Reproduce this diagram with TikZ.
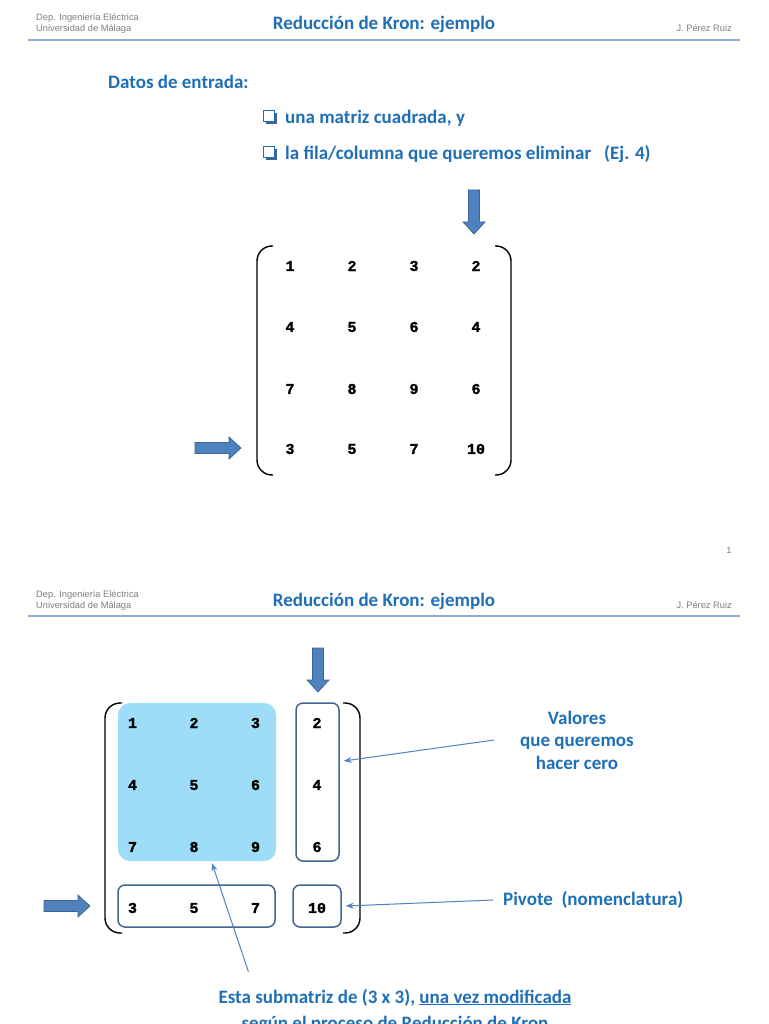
\documentclass[tikz,border=0pt]{standalone}
\usepackage{fontspec}
\setmainfont{Carlito}
\newfontfamily\hdrfont{Liberation Sans}
\newfontfamily\monofont[BoldFeatures={FakeBold=1.6}]{Liberation Mono}
\usetikzlibrary{arrows.meta}
\definecolor{kblue}{HTML}{1F6FB8}
\definecolor{arrowfill}{HTML}{4F81BD}
\definecolor{arrowdraw}{HTML}{3A6595}
\definecolor{boxdraw}{HTML}{42648F}
\definecolor{subfill}{HTML}{9EDDF8}
\definecolor{hdrline}{HTML}{8EAADB}
\definecolor{hdrgrey}{HTML}{7F7F7F}

\begin{document}
\begin{tikzpicture}[x=1pt,y=-1pt,every node/.style={inner sep=0pt},
  hdrtext/.style={font=\hdrfont\fontsize{9.3}{10}\selectfont,text=hdrgrey},
  bluetext/.style={font=\fontsize{19}{22.5}\selectfont\bfseries,text=kblue},
  entry/.style={font=\monofont\fontsize{15}{15}\selectfont\bfseries},
  bigarrow/.style={fill=arrowfill,draw=arrowdraw,line width=.7pt},
  paren/.style={line width=1.4pt,rounded corners=15pt},
  cell/.style={draw=boxdraw,line width=1.5pt,rounded corners=7pt},
  callout/.style={draw=arrowfill,line width=1pt,-{Stealth[length=8pt,width=6pt]}}]
\fill[white] (0,0) rectangle (768,1024);
\clip (0,0) rectangle (768,1024);
% slide headers, the same on both pages
\foreach \s in {0,576}{
  \node[hdrtext,anchor=base west] (dep\s) at (36,21+\s) {Dep. Ingeniería Eléctrica};
  \node[hdrtext,anchor=base west] (uni\s) at (36,32+\s) {Universidad de Málaga};
  \node[bluetext,anchor=base] (tit\s) at (384,30+\s) {Reducción de Kron: ejemplo};
  \node[hdrtext,anchor=base east] (aut\s) at (732,32+\s) {J. Pérez Ruiz};
  \draw[hdrline,line width=1.5pt] (28,40+\s) -- (740,40+\s);
}
\node[hdrtext] (pagenum) at (729,550) {1};
% ---- page 1: input data
\node[bluetext,anchor=base west] (datos) at (108,89) {Datos de entrada:};
\foreach \y/\txt in {124/{una matriz cuadrada, y},160/{la fila/columna que queremos eliminar\ \ \ (Ej. 4)}}{
  \fill[boxdraw] (265.5,\y-11) rectangle (277,\y+.5);
  \draw[kblue,line width=1pt,fill=white] (263.5,\y-13) rectangle (274.5,\y-2);
  \node[bluetext,anchor=base west] (item\y) at (285,\y) {\txt};
}
% the 4 x 4 matrix
\draw[paren] (273,246) -- (257,246) -- (257,475) -- (273,475);
\draw[paren] (495,246) -- (511,246) -- (511,475) -- (495,475);
\foreach \row/\y in {{1,2,3,2}/266,{4,5,6,4}/327,{7,8,9,6}/389,{3,5,7,10}/449}{
  \foreach \v [count=\c] in \row{
    \node[entry] (a-\y-\c) at ({228+62*\c},\y) {\v};
  }
}
% ---- page 2: the partition
\node[fill=subfill,rounded corners=12pt,minimum width=158,minimum height=158] (subbox) at (197,782) {};
\node[cell,minimum width=43,minimum height=158] (colbox) at (317.5,782) {};
\node[cell,minimum width=157,minimum height=42] (rowbox) at (196.5,906) {};
\node[cell,minimum width=48,minimum height=42] (pivbox) at (317,906) {};
\draw[paren] (122,703) -- (105,703) -- (105,933) -- (122,933);
\draw[paren] (343,703) -- (360,703) -- (360,933) -- (343,933);
\foreach \row/\y in {{1,2,3,2}/723,{4,5,6,4}/785,{7,8,9,6}/847,{3,5,7,10}/908}{
  \foreach \v [count=\c] in \row{
    \node[entry] (b-\y-\c) at ({71+61.5*\c},\y) {\v};
  }
}
% block arrows: column and row to remove
\foreach \x/\y in {474/190,318/648}{
  \filldraw[bigarrow] (\x-5.5,\y) -- (\x+5.5,\y) -- (\x+5.5,\y+32) -- (\x+11,\y+32)
    -- (\x,\y+44) -- (\x-11,\y+32) -- (\x-5.5,\y+32) -- cycle;
}
\foreach \x/\y in {195/448,44/906}{
  \filldraw[bigarrow] (\x,\y-5.5) -- (\x+34,\y-5.5) -- (\x+34,\y-11)
    -- (\x+46,\y) -- (\x+34,\y+11) -- (\x+34,\y+5.5) -- (\x,\y+5.5) -- cycle;
}
% callouts
\node[bluetext,align=center] (valores) at (577,740) {Valores\\que queremos\\hacer cero};
\node[bluetext,anchor=west] (pivote) at (503,900) {Pivote\ \ (nomenclatura)};
\node[bluetext,anchor=base] (esta) at (395,1003) {Esta submatriz de (3 x 3), \underline{una vez modificada}};
\node[bluetext,anchor=base] (segun) at (395,1029) {según el proceso de Reducción de Kron};
\draw[callout] ([xshift=-26]valores.west) -- ([xshift=4,yshift=21]colbox.east);
\draw[callout] ([xshift=-10]pivote.west) -- ([xshift=4]pivbox.east);
\draw[callout] ([xshift=30,yshift=17]esta.north west) -- ([xshift=15,yshift=-2]subbox.south);
\end{tikzpicture}
\end{document}
